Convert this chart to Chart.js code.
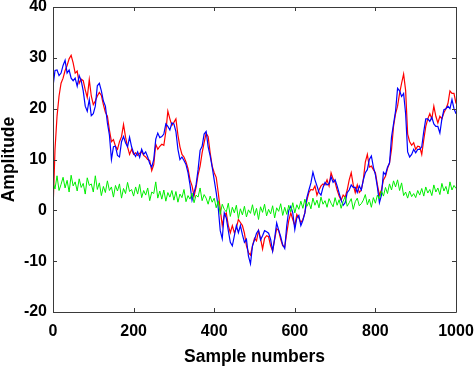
<!DOCTYPE html>
<html>
<head>
<meta charset="utf-8">
<script src="https://cdn.jsdelivr.net/npm/chart.js@4.4.1/dist/chart.umd.min.js"></script>
<style>
  html, body { margin: 0; padding: 0; background: #ffffff; }
  #wrap { width: 474px; height: 366px; }
</style>
</head>
<body>
<div id="wrap"><canvas id="c" width="474" height="366"></canvas></div>
<script>
// ---- data (one value every 5 samples) ----
const sampleStep = 5;
const xTicks = [0, 200, 400, 600, 800, 1000];
const yTicks = [-20, -10, 0, 10, 20, 30, 40];

const redSeries = [
  0, 12, 18.5, 22.5, 25, 26, 27.5, 28.5, 29.8, 30.5,
  29, 27, 27.4, 25, 25.8, 25.5, 23.7, 22.2, 25.7, 22.5,
  20.8, 21.5, 22.5, 23.2, 22.6, 20.8, 19.3, 18.5, 15.8, 13.5,
  13.9, 12.6, 12, 13.5, 14.5, 16.9, 14.4, 12.5, 11, 12,
  11, 11.3, 10.8, 11.2, 11.6, 10.8, 10.5, 10, 9.8, 7.8,
  9, 13, 12, 12.6, 13, 12.8, 15.5, 19.5, 18, 16.7,
  17.3, 18, 14.8, 12.5, 11, 10.5, 9.5, 8.2, 6, 4.8,
  2.8, 4.5, 7, 8.7, 11.3, 13.3, 15.2, 14.5, 11.3, 8.7,
  7.4, 6.5, 3.5, 0.2, -3, -1, -0.5, -3, -4.4, -3,
  -4.4, -3.5, -1.8, -2.4, -3, -4.5, -7, -8.3, -8.8, -7,
  -5.5, -6, -4, -5.5, -7.6, -5.5, -5, -5.2, -7, -8,
  -5.7, -3.6, -4, -5.7, -7, -7.2, -4.5, -2, -0.5, -1.8,
  -3, -0.8, -1.5, -2.4, -1.8, -0.5, 2, 3.5, 4.1, 4,
  4.8, 3, 4, 4.8, 5.2, 5, 6, 4.8, 7.4, 6.2,
  5.5, 4, 2.8, 2, 3, 2.6, 4, 6, 7.4, 5,
  3.5, 5, 3.5, 4, 6, 9.5, 11, 8.5, 8.7, 8,
  7.4, 5, 3, 4, 6, 6.7, 8.2, 9.3, 12, 16.5,
  19, 20.5, 23, 25, 26.8, 23.6, 15, 13.5, 12.8, 13.3,
  12, 12.6, 12.5, 11, 13.9, 16.5, 18, 19, 18, 20.5,
  18.5, 17.2, 18.5, 18, 19.2, 20, 21, 23.5, 23, 23,
  21
];

const blueSeries = [
  24.4, 27.5, 27.6, 26.5, 27, 28.5, 29.5, 27, 27.6, 26,
  25.5, 26, 24.4, 26.5, 25.5, 23.5, 20.5, 19.5, 21.8, 18.6,
  19, 20.5, 24.5, 25, 23.5, 21.5, 20.5, 17.2, 14.8, 10,
  12.5, 12.6, 10.8, 10.5, 13.5, 14.5, 13.3, 12.5, 14.4, 12.5,
  11.3, 10.6, 11.5, 10.4, 12, 11, 11.5, 10.5, 9.2, 8.5,
  10, 14, 15.2, 14.3, 14.5, 15, 17, 16.5, 15.8, 17.2,
  17, 15.5, 12, 10, 10.5, 9.8, 9, 7.4, 5, 2,
  3.5, 5, 8, 11.8, 12.6, 15, 15.5, 12.5, 10.7, 8.5,
  6, 3.5, 0.5, -4, -5.6, -0.5, -1.5, -4, -6.3, -7,
  -5, -3, -4.4, -3, -4.8, -6.3, -5.7, -9, -10.5, -7,
  -5.8, -4.5, -3.9, -5.8, -5, -4, -4.2, -4.5, -5.7, -8,
  -5.5, -2.5, -3.9, -5.2, -6.8, -7.5, -3, 0, 0.8, -0.5,
  -3.8, -1.5, -1, -3, -2, -0.5, 2.5, 4, 5.4, 7.5,
  6, 4.8, 3.5, 3, 4.5, 5.5, 5, 5.2, 6.6, 5.5,
  6, 4.8, 3.4, 2, 1, 1.5, 3.5, 4, 5, 4.5,
  4.5, 3.5, 4.8, 4, 6, 7.4, 8, 10, 10.7, 8.5,
  7, 4.5, 1.5, 3, 7.5, 7, 8.5, 9.3, 14.4, 17,
  19.5, 24, 23.5, 22.4, 23, 19, 11.5, 10.5, 11, 12,
  11.3, 12, 12, 12.5, 15.5, 18, 18, 17.5, 18.3, 17,
  16.5, 16.5, 15.2, 18, 19.8, 20, 20.5, 20, 21.8, 20,
  19
];

const greenSeries = [
  5.5, 4.2, 6.8, 3.9, 5.1, 6.5, 4.4, 5.9, 3.6, 6.9, 4.8, 5.6, 3.8, 6.2, 4.5, 5.3, 3.2, 6.4, 4.9, 5.2,
  3.6, 6.8, 4.1, 5.4, 2.9, 4.7, 3.5, 5.8, 3.9, 4.6, 2.6, 4.9, 3.8, 5.2, 2.4, 4.3, 3.3, 5.5, 3.7, 4.1,
  2.8, 4.6, 3.2, 5.1, 2.5, 3.9, 3.0, 4.4, 1.9, 3.6, 3.3, 5.6, 2.4, 3.8, 2.2, 4.0, 1.8, 3.5, 2.6, 3.9,
  2.0, 3.7, 1.6, 3.2, 2.5, 4.1, 1.7, 2.9, 2.2, 3.4, 1.5, 3.0, 2.6, 4.4, 1.9, 3.1, 2.4, 1.2, 2.8, 1.6,
  2.4, 0.5, 1.9, -0.8, 1.2, 0.2, -0.3, 1.4, -1.2, 0.6, -0.5, 1.0, -1.6, 0.3, -0.9, 0.8, -1.3, 0.1, -0.6, 1.1,
  -1.0, 0.4, -1.8, 0.7, -0.4, 1.2, -1.1, 0.2, -0.7, 0.9, -1.5, 0.5, -0.2, 1.3, -1.0, 0.6, -0.8, 1.0, -0.3, 1.5,
  -0.5, 1.1, 0.2, 1.8, 0.4, 2.2, 0.8, 1.6, 0.3, 2.4, 1.0, 2.0, 0.5, 2.6, 1.2, 1.9, 0.6, 2.3, 1.4, 0.7,
  2.5, 1.0, 2.1, 0.4, 1.8, 2.7, 0.8, 1.5, 2.3, 0.2, 1.7, 2.4, 0.9, 1.3, 2.0, 3.1, 1.1, 2.2, 0.6, 2.5,
  1.4, 3.0, 2.2, 3.8, 2.8, 4.5, 3.3, 5.2, 4.0, 5.8, 4.6, 6.0, 3.9, 5.4, 2.9, 3.6, 2.4, 3.8, 2.7, 3.3,
  2.5, 3.9, 3.0, 4.3, 2.8, 4.6, 3.4, 4.1, 2.9, 5.0, 3.6, 4.4, 3.1, 5.3, 3.8, 4.7, 3.2, 5.6, 4.0, 4.9, 4.3
];

const xTitle = 'Sample numbers';
const yTitle = 'Amplitude';

// ---- build points ----
function toPoints(arr) {
  return arr.map((v, i) => ({ x: i * sampleStep, y: v }));
}

const FONT = '"Liberation Sans", Arial, Helvetica, sans-serif';

// Box + inward tick marks (MATLAB style)
const boxPlugin = {
  id: 'boxTicks',
  afterDatasetsDraw(chart) {
    const { ctx, chartArea: a, scales } = chart;
    const xs = scales.x, ys = scales.y;
    const L = 4;
    ctx.save();
    ctx.strokeStyle = '#3a3a3a';
    ctx.lineWidth = 1;
    ctx.beginPath();
    ctx.rect(Math.round(a.left) + 0.5, Math.round(a.top) + 0.5,
             Math.round(a.right - a.left), Math.round(a.bottom - a.top));
    ctx.stroke();
    ctx.beginPath();
    xTicks.forEach(t => {
      const px = Math.round(xs.getPixelForValue(t)) + 0.5;
      ctx.moveTo(px, a.bottom); ctx.lineTo(px, a.bottom - L);
      ctx.moveTo(px, a.top); ctx.lineTo(px, a.top + L);
    });
    yTicks.forEach(t => {
      const py = Math.round(ys.getPixelForValue(t)) + 0.5;
      ctx.moveTo(a.left, py); ctx.lineTo(a.left + L, py);
      ctx.moveTo(a.right, py); ctx.lineTo(a.right - L, py);
    });
    ctx.stroke();
    ctx.restore();
  }
};

new Chart(document.getElementById('c'), {
  type: 'line',
  data: {
    datasets: [
      { label: 'green', data: toPoints(greenSeries), borderColor: '#00ee00', borderWidth: 1, pointRadius: 0, tension: 0 },
      { label: 'blue', data: toPoints(blueSeries), borderColor: '#0000ff', borderWidth: 1.2, pointRadius: 0, tension: 0 },
      { label: 'red', data: toPoints(redSeries), borderColor: '#ff0000', borderWidth: 1.2, pointRadius: 0, tension: 0 }
    ]
  },
  options: {
    responsive: false,
    animation: false,
    devicePixelRatio: 1,
    layout: { padding: { top: 7, right: 18, left: 0, bottom: 0 } },
    plugins: { legend: { display: false }, tooltip: { enabled: false } },
    scales: {
      x: {
        type: 'linear',
        min: 0, max: 1000,
        afterBuildTicks(scale) { scale.ticks = xTicks.map(v => ({ value: v })); },
        afterFit(scale) { scale.height = 54; scale.paddingLeft = 0; scale.paddingRight = 0; },
        grid: { display: false, drawTicks: false },
        border: { display: false },
        ticks: { color: '#000', padding: 10, maxRotation: 0, autoSkip: false,
                 callback: v => String(v),
                 font: { family: FONT, size: 16, weight: 'bold' } },
        title: { display: true, text: xTitle, color: '#000', padding: 0,
                 font: { family: FONT, size: 17.5, weight: 'bold', lineHeight: 1 } }
      },
      y: {
        min: -20, max: 40,
        afterBuildTicks(scale) { scale.ticks = yTicks.map(v => ({ value: v })); },
        afterFit(scale) { scale.width = 53; scale.paddingTop = 0; scale.paddingBottom = 0; },
        grid: { display: false, drawTicks: false },
        border: { display: false },
        ticks: { color: '#000', padding: 6, autoSkip: false,
                 callback: v => String(v),
                 font: { family: FONT, size: 16, weight: 'bold' } },
        title: { display: true, text: yTitle, color: '#000', padding: 0,
                 font: { family: FONT, size: 17.5, weight: 'bold', lineHeight: 1 } }
      }
    }
  },
  plugins: [boxPlugin]
});
</script>
</body>
</html>
